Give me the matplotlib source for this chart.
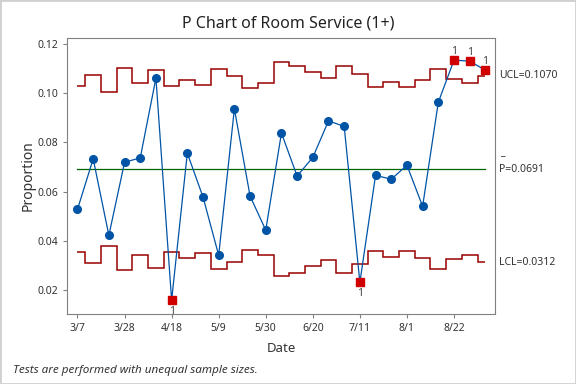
import matplotlib
matplotlib.use("Agg")
import matplotlib.pyplot as plt
import numpy as np
from matplotlib.patches import Rectangle

plt.rcParams['font.family'] = ['Noto Sans', 'DejaVu Sans']

# weekly samples, every third date is labelled
dates = ['3/7', '3/14', '3/21', '3/28', '4/4', '4/11', '4/18', '4/25', '5/2',
         '5/9', '5/16', '5/23', '5/30', '6/6', '6/13', '6/20', '6/27', '7/4',
         '7/11', '7/18', '7/25', '8/1', '8/8', '8/15', '8/22', '8/29', '9/5']
proportion = [0.0528, 0.0733, 0.0422, 0.0719, 0.0737, 0.1061, 0.0158, 0.0756, 0.0578,
              0.0341, 0.0936, 0.0582, 0.0443, 0.0838, 0.0663, 0.0739, 0.0887, 0.0865,
              0.0231, 0.0666, 0.0650, 0.0707, 0.0540, 0.0963, 0.1134, 0.1130, 0.1093]
ucl = [0.1028, 0.1074, 0.1003, 0.1101, 0.1040, 0.1093, 0.1028, 0.1052, 0.1032,
       0.1097, 0.1068, 0.1019, 0.1041, 0.1126, 0.1111, 0.1085, 0.1061, 0.1111,
       0.1078, 0.1025, 0.1046, 0.1025, 0.1052, 0.1097, 0.1056, 0.1040, 0.1070]
lcl = [0.0354, 0.0308, 0.0379, 0.0281, 0.0342, 0.0289, 0.0354, 0.0330, 0.0350,
       0.0285, 0.0314, 0.0363, 0.0341, 0.0256, 0.0271, 0.0297, 0.0321, 0.0271,
       0.0304, 0.0357, 0.0336, 0.0357, 0.0330, 0.0285, 0.0326, 0.0342, 0.0312]
pbar = 0.0691
flagged = [6, 18, 24, 25, 26]   # failed test 1
flag_below = [6, 18]

n = len(proportion)
x = np.arange(n)
prop = np.array(proportion)

fig = plt.figure(figsize=(5.76, 3.84), dpi=100)
ax = fig.add_axes([0.1163, 0.182, 0.7427, 0.719])

limit_red = '#990000'
edges = np.concatenate(([0], np.arange(n - 1) + 0.5, [n - 1]))
ax.stairs(ucl, edges, baseline=None, color=limit_red, lw=1.1)
ax.stairs(lcl, edges, baseline=None, color=limit_red, lw=1.1)
ax.plot([0, n - 1], [pbar, pbar], color='#006400', lw=0.9)

ax.plot(x, prop, color='#0054A6', lw=0.9, marker='o', ms=5.5,
        mfc='#0054A6', mec='#0054A6', zorder=3)
ax.plot(x[flagged], prop[flagged], ls='none', marker='s', ms=5.5,
        mfc='#D00000', mec='#D00000', zorder=4)
for i in flagged:
    dy = -8 if i in flag_below else 6.5
    ax.annotate('1', (x[i], prop[i]), xytext=(0, dy), textcoords='offset points',
                ha='center', va='center', fontsize=7.5, color='#444444')

ax.set_xlim(-0.67, 26.6)
ax.set_ylim(0.0102, 0.1224)
ax.set_xticks(x[::3])
ax.set_xticklabels(dates[::3])
ax.set_yticks([0.02, 0.04, 0.06, 0.08, 0.10, 0.12])
ax.set_yticklabels(['0.02', '0.04', '0.06', '0.08', '0.10', '0.12'])
ax.tick_params(labelsize=7.5, colors='#333333', length=3, width=0.8)
ax.tick_params(axis='both', color='#808080')
for s in ['top', 'right', 'left', 'bottom']:
    ax.spines[s].set_color('#808080')
    ax.spines[s].set_linewidth(0.8)

ax.set_xlabel('Date', fontsize=9.5, color='#333333', labelpad=6)
ax.set_ylabel('Proportion', fontsize=10, color='#333333', labelpad=1)
fig.text(0.5, 0.94, 'P Chart of Room Service (1+)', ha='center', va='center',
         fontsize=11.5, color='#222222', fontweight='medium')

tx = 26.6 + 0.3
ax.text(tx, ucl[-1], 'UCL=0.1070', fontsize=7.5, va='center', ha='left',
        color='#333333', clip_on=False)
ax.text(tx, pbar, 'P=0.0691', fontsize=7.5, va='center', ha='left',
        color='#333333', clip_on=False)
ax.annotate('_', (tx, pbar), xytext=(0.5, 12), textcoords='offset points',
            fontsize=7.5, va='center', ha='left', color='#333333',
            annotation_clip=False)
ax.text(tx, lcl[-1], 'LCL=0.0312', fontsize=7.5, va='center', ha='left',
        color='#333333', clip_on=False)

fig.text(0.023, 0.035, 'Tests are performed with unequal sample sizes.',
         fontsize=8.4, style='italic', color='#333333', va='center')

fig.patches.append(Rectangle((0, 0), 1, 1, transform=fig.transFigure,
                             fill=False, ec='#D0D0D0', lw=2))

fig.savefig('out.png', dpi=100)
